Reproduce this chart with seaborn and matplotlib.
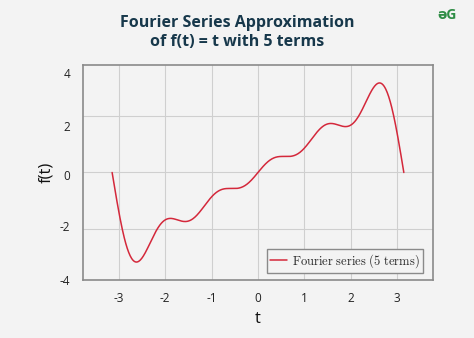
import numpy as np
import pandas as pd
import matplotlib
matplotlib.use("Agg")
import matplotlib.pyplot as plt
import seaborn as sns

# ---- data: 5-term Fourier sine series of f(t) = t ----
harmonics = [1, 2, 3, 4, 5]
coefficients = [2.0, -1.0, 0.6667, -0.5, 0.4]
t_start, t_end = -np.pi, np.pi
n_samples = 600

title_text = "Fourier Series Approximation\nof f(t) = t with 5 terms"
x_label = "t"
y_label = "f(t)"
legend_label = r"$\mathrm{Fourier\ series\ (5\ terms)}$"
xtick_values = [-3, -2, -1, 0, 1, 2, 3]
xtick_labels = ["-3", "-2", "-1", "0", "1", "2", "3"]
ygrid_values = [-2, 0, 2]
ytick_label_pos = [-3.8, -1.9, -0.1, 1.65, 3.5]
ytick_labels = ["-4", "-2", "0", "2", "4"]

t = np.linspace(t_start, t_end, n_samples)
y = np.zeros_like(t)
for n, b in zip(harmonics, coefficients):
    y += b * np.sin(n * t)
df = pd.DataFrame({"t": t, "f": y, "series": legend_label})

# ---- style ----
bg = "#f3f3f3"
sns.set_theme(style="white")
plt.rcParams["mathtext.fontset"] = "cm"
plt.rcParams["font.family"] = ["Open Sans", "DejaVu Sans"]

fig = plt.figure(figsize=(4.74, 3.38), dpi=100, facecolor=bg)
ax = fig.add_axes([0.175, 0.1716, 0.7385, 0.6361])
ax.set_facecolor(bg)

sns.lineplot(data=df, x="t", y="f", hue="series", palette=["#d4283b"],
             linewidth=1.1, ax=ax, sort=False)

ax.set_xlim(-1.2 * np.pi, 1.2 * np.pi)
ax.set_ylim(-3.8, 3.8)

ax.set_xticks(xtick_values)
ax.set_xticklabels(xtick_labels)
ax.set_yticks(ygrid_values)
ax.set_yticklabels([])
ax.set_yticks(ytick_label_pos, minor=True)
ax.set_yticklabels(ytick_labels, minor=True)

ax.grid(True, which="major", color="#cfcfcf", linewidth=0.8)
ax.tick_params(axis="both", which="both", length=0, labelsize=8.5,
               labelcolor="#222222")
ax.tick_params(axis="x", pad=9)
ax.tick_params(axis="y", which="both", pad=9)

for s in ax.spines.values():
    s.set_color("#8a8a8a")
    s.set_linewidth(1.2)

ax.set_xlabel(x_label, fontsize=12, color="#111111", labelpad=4)
ax.set_ylabel(y_label, fontsize=12, color="#111111", labelpad=4)

leg = ax.legend(loc="lower right", fontsize=9, frameon=True, fancybox=False,
                handlelength=1.4, handletextpad=0.4, borderpad=0.25,
                borderaxespad=0, bbox_to_anchor=(0.972, 0.033))
leg.get_frame().set_edgecolor("#8a8a8a")
leg.get_frame().set_facecolor(bg)
leg.get_frame().set_linewidth(1.0)
leg.get_frame().set_alpha(1)

fig.text(0.5, 0.905, title_text, ha="center", va="center", fontsize=11.5,
         fontweight="bold", color="#17384b", linespacing=1.25)
fig.text(0.943, 0.955, "\u0259G", ha="center", va="center", fontsize=10,
         fontweight="bold", color="#2f8d46")

fig.savefig("out.png", dpi=100, facecolor=bg)
